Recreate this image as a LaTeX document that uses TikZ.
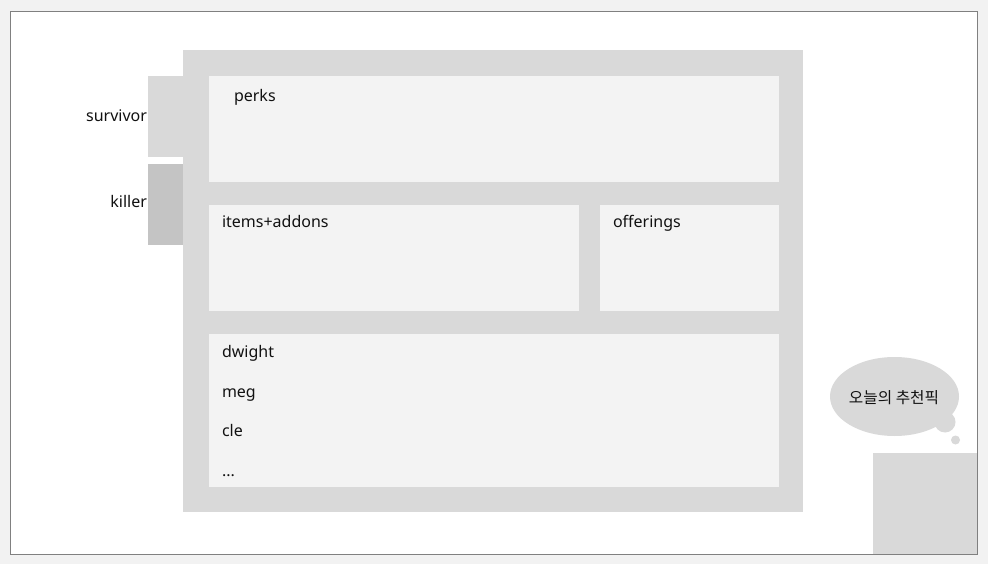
\documentclass[tikz,border=0pt]{standalone}
\usepackage{fontspec}
\setmainfont{Noto Sans}
\newfontfamily\krfont{Noto Sans CJK KR}
\usetikzlibrary{shapes.geometric}
\definecolor{pagebg}{HTML}{F2F2F2}
\definecolor{framegray}{HTML}{808080}
\definecolor{panelgray}{HTML}{D9D9D9}
\definecolor{innergray}{HTML}{F3F3F3}
\definecolor{killergray}{HTML}{C4C4C4}
\definecolor{txt}{HTML}{111111}
\tikzset{
  x=1pt, y=-1pt,
  blk/.style={anchor=north west, inner sep=0pt, outer sep=0pt, draw=none},
  panel/.style={blk, fill=panelgray},
  inner/.style={blk, fill=innergray},
  lbl/.style={inner sep=0pt, outer sep=0pt, text=txt, font=\fontsize{16}{19}\selectfont},
}
\begin{document}
\begin{tikzpicture}
\fill[pagebg] (0,0) rectangle (988,564);
\useasboundingbox (0,0) rectangle (988,564);
\node[blk, fill=white, draw=framegray, line width=1pt, minimum width=967pt, minimum height=543pt] (frame) at (10.5,11.5) {};
% main panel
\node[panel, minimum width=620pt, minimum height=462pt] (main) at (183,50) {};
% tabs
\node[panel, minimum width=35pt, minimum height=81pt] (survtab) at (148,76) {};
\node[blk, fill=killergray, minimum width=35pt, minimum height=81pt] (killtab) at (148,164) {};
% inner boxes
\node[inner, minimum width=570pt, minimum height=106pt] (perks) at (209,76) {};
\node[inner, minimum width=370pt, minimum height=106pt] (items) at (209,205) {};
\node[inner, minimum width=179pt, minimum height=106pt] (offer) at (600,205) {};
\node[inner, minimum width=570pt, minimum height=153pt] (list) at (209,334) {};
% labels
\node[lbl, anchor=base east] (survl) at (147,122) {survivor};
\node[lbl, anchor=base east] (killl) at (147,208) {killer};
\node[lbl, anchor=base west] (perksl) at (234,102) {perks};
\node[lbl, anchor=base west] (itemsl) at (222,228) {items+addons};
\node[lbl, anchor=base west] (offerl) at (613,228) {offerings};
\node[lbl, anchor=base west] (dwight) at (222,357) {dwight};
\node[lbl, anchor=base west] (meg) at (222,397) {meg};
\node[lbl, anchor=base west] (cle) at (222,436) {cle};
\node[lbl, anchor=base west] (dots) at (222,476) {...};
% thought bubble
\node[ellipse, fill=panelgray, inner sep=0pt, minimum width=129pt, minimum height=79pt] (bubble) at (894.5,396.5) {};
\node[circle, fill=panelgray, inner sep=0pt, minimum size=21pt] (puff1) at (945,422) {};
\node[circle, fill=panelgray, inner sep=0pt, minimum size=9pt] (puff2) at (955.5,440) {};
\node[lbl, anchor=base, font=\krfont\fontsize{15.7}{19}\selectfont] (rec) at (894,403) {오늘의 추천픽};
% bottom-right block
\node[panel, minimum width=104pt, minimum height=101pt] (corner) at (873,453) {};
\draw[framegray, line width=1pt] (frame.south west) -- (frame.south east) -- (frame.north east);
\end{tikzpicture}
\end{document}
